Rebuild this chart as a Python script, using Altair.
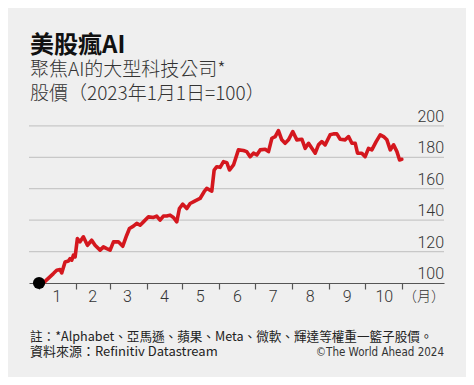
import altair as alt
import pandas as pd

# ---- data ----
days = [0, 3, 12, 14.8, 17.6, 19, 21.8, 24.6, 26, 27.4, 28.8, 30.2, 32.1, 34.3, 37.1, 40.5, 44.1,
        46.9, 51.1, 53.9, 56.7, 59.5, 62.3, 66.4, 70.1, 73.4, 75.7, 79, 81.8, 84.6, 87.4, 91.6,
        95.8, 98.5, 101.3, 104.1, 106.9, 109.7, 112.5, 115.3, 117.5, 120.3, 123.7, 126.5, 130.7,
        134.8, 138.2, 140.4, 144.6, 146.6, 148.8, 151.6, 154.4, 157.2, 159.4, 162.8, 166.9, 171.1,
        173.9, 176.7, 179.5, 182.3, 185.1, 189.3, 192.1, 194.9, 197.7, 200.4, 203.2, 206, 208.8,
        212.4, 215.8, 220, 222.8, 225.6, 228.4, 231.2, 233.9, 236.7, 239.5, 243.7, 246.5, 249.3,
        252.1, 256.3, 259.1, 261.9, 264.7, 266.6, 270.2, 273, 275.8, 278.6, 282.2, 285.6, 288.4,
        291.2, 294, 296.8, 299.6, 301.8, 303.7]
values = [100, 99.6, 106, 108.1, 108.5, 106.4, 113.4, 114, 115.5, 114.5, 117.7, 116.6, 128.3, 126.2,
          129.4, 124, 127.2, 124, 120.9, 123, 121.9, 120.9, 126.2, 126.2, 123.4, 130.4, 134.7, 136.2,
          137.9, 136.8, 138.9, 142.1, 141.7, 142.6, 140, 142.6, 142.6, 143.2, 141.7, 138.9, 147.4,
          150.2, 147.4, 150.6, 152.3, 153.8, 158.1, 160.2, 158.5, 171.9, 174, 173.6, 177.2, 176.6,
          171.9, 175.1, 184.7, 184.3, 183.6, 180.4, 182.6, 181.5, 184.7, 185.1, 183.6, 192.1, 193.2,
          197, 191.1, 188.9, 191.1, 196.4, 191.1, 191.5, 185.7, 188.9, 185.7, 182.6, 187.9, 190,
          187.9, 194.3, 194.9, 194.9, 191.5, 191.1, 193.2, 188.9, 188.9, 182.6, 182.6, 180.4, 185.7,
          184.7, 190, 194.3, 193.2, 191.1, 184.7, 187.9, 183.6, 178.3, 178.7]

month_boundaries = [0, 31, 59, 90, 120, 151, 181, 212, 243, 273, 304]
month_mid = [15, 45, 74, 105, 135, 166, 196, 227, 258, 289]
month_labels = ["1", "2", "3", "4", "5", "6", "7", "8", "9", "10"]
y_ticks = [100, 120, 140, 160, 180, 200]
y_labels = ["100", "120", "140", "160", "180", "200"]

title = "美股瘋AI"
subtitle1 = "聚焦AI的大型科技公司*"
subtitle2 = "股價（2023年1月1日=100）"
note = "註：*Alphabet、亞馬遜、蘋果、Meta、微軟、輝達等權重一籃子股價。"
source = "資料來源：Refinitiv Datastream"
credit = "©The World Ahead 2024"
unit = "（月）"

df = pd.DataFrame({"day": days, "value": values})
start = pd.DataFrame({"day": [days[0]], "value": [values[0]]})
months = pd.DataFrame({"mid": month_mid, "label": month_labels})
yt = pd.DataFrame({"v": y_ticks, "label": y_labels})

W, H = 415, 165
x_scale = alt.Scale(domain=[-8.4, 339], nice=False, zero=False)
y_scale = alt.Scale(domain=[100, 205], nice=False, zero=False)

CJK = "Noto Sans CJK TC"
RED = "#d4171e"

grid = alt.Chart(yt[yt.v > 100]).mark_rule(color="#c8c8c8", strokeWidth=1.2).encode(
    y=alt.Y("v:Q", scale=y_scale, axis=None), x=alt.value(0), x2=alt.value(W))

ylab = alt.Chart(yt).mark_text(align="right", baseline="alphabetic", dy=-4, fontSize=16,
                               font="Roboto", fontWeight=300, color="#333").encode(
    y=alt.Y("v:Q", scale=y_scale, axis=None), x=alt.value(W), text="label:N")

line = alt.Chart(df).mark_line(color=RED, strokeWidth=3.6, strokeJoin="round", strokeCap="round").encode(
    x=alt.X("day:Q", scale=x_scale,
            axis=alt.Axis(values=month_boundaries, labels=False, ticks=True, tickSize=6,
                          tickColor="#555", tickWidth=1.2, domainColor="#555", domainWidth=1.2,
                          grid=False, title=None)),
    y=alt.Y("value:Q", scale=y_scale, axis=None),
)

dot = alt.Chart(start).mark_circle(color="black", opacity=1, size=150).encode(
    x=alt.X("day:Q", scale=x_scale), y=alt.Y("value:Q", scale=y_scale, axis=None))

month_text = alt.Chart(months).mark_text(fontSize=16, font="Roboto", fontWeight=300,
                                          color="#333", baseline="alphabetic").encode(
    x=alt.X("mid:Q", scale=x_scale), y=alt.value(H + 19), text="label:N")


def label(txt, x, y, size, weight="normal", color="#222", align="left", font=CJK):
    return alt.Chart(pd.DataFrame({"t": [txt]})).mark_text(
        fontSize=size, fontWeight=weight, color=color, align=align, baseline="alphabetic",
        font=font).encode(x=alt.value(x), y=alt.value(y), text="t:N")


texts = [
    label(title, 1, -65, 24, "bold", "#111"),
    label(subtitle1, 1, -42, 19, 300, "#333"),
    label(subtitle2, 1, -18, 19, 300, "#333"),
    label(unit, 395, H + 18, 14, 300, "#333", "center"),
    label(note, 1, 223, 12.6, "normal", "#222"),
    label(source, 1, 238, 13, "normal", "#222"),
    label(credit, W, 238, 11.5, "normal", "#333", "right",
          "'Liberation Sans Narrow', 'DejaVu Sans Condensed', Roboto"),
]

chart = alt.layer(grid, ylab, line, dot, month_text, *texts).properties(
    width=W, height=H,
    padding={"left": 21, "top": 110, "right": 22, "bottom": 94},
    autosize=alt.AutoSizeParams(type="none"),
).configure(background="#efefef").configure_view(strokeWidth=0)

chart.save("out.html", embed_options={"renderer": "svg", "actions": False})
